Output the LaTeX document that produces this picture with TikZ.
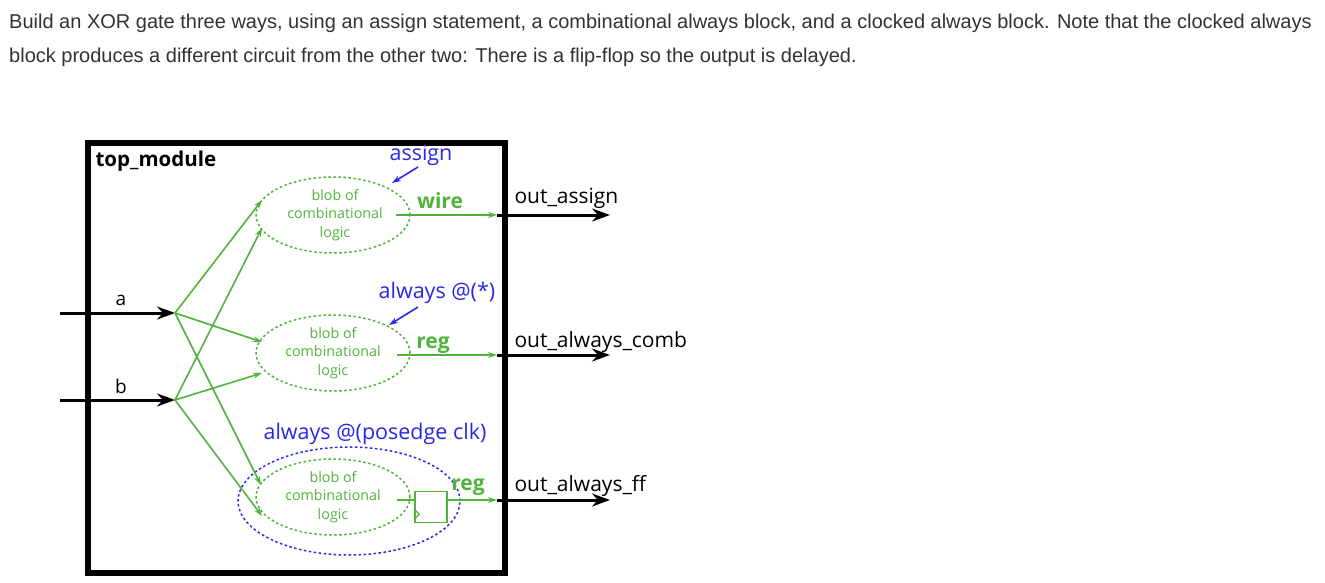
\documentclass[tikz,border=0pt]{standalone}
\usepackage{fontspec}
\setmainfont{Open Sans}
\newfontfamily\hdr{Liberation Sans}
\usetikzlibrary{arrows.meta,shapes.geometric,calc}
\definecolor{gr}{RGB}{80,180,60}
\definecolor{bl}{RGB}{40,40,230}
\definecolor{tx}{RGB}{50,50,50}
\tikzset{
 blob/.style={draw=gr,dash pattern=on 2.5pt off 2.5pt,line width=1.5pt,ellipse,minimum width=154pt,minimum height=76pt,inner sep=0pt},
 gw/.style={gr,line width=1.6pt,-{Stealth[length=9pt,width=6pt]}},
 bw/.style={black,line width=3pt,-{Stealth[length=18pt,width=13pt,inset=6pt]}},
 ba/.style={bl,line width=1.6pt,-{Stealth[length=9pt,width=6pt]}},
 bt/.style={font=\fontsize{14.3}{18.5}\selectfont,text=gr,align=center},
 outlbl/.style={anchor=west,font=\fontsize{21}{22}\selectfont},
 gl/.style={text=gr,font=\bfseries\fontsize{21}{22}\selectfont},
 bll/.style={text=bl,font=\fontsize{21.5}{22}\selectfont},
}
\begin{document}
\begin{tikzpicture}[x=1pt,y=-1pt]
\useasboundingbox (0,0) rectangle (1325,583);
\node[anchor=west,text=tx,font=\hdr\fontsize{20}{22}\selectfont,inner sep=0] (h1) at (9,23) {Build an XOR gate three ways, using an assign statement, a combinational always block, and a clocked always block. Note that the clocked always};
\node[anchor=west,text=tx,font=\hdr\fontsize{20}{22}\selectfont,inner sep=0] (h2) at (9,57) {block produces a different circuit from the other two: There is a flip-flop so the output is delayed.};
\draw[line width=6pt] (88,143) rectangle (505,573);
\node[anchor=west,font=\bfseries\fontsize{20.5}{22}\selectfont] (tm) at (92,161) {top\_module};
% blobs
\node[blob] (e1) at (333,215) {};
\node[bt] (t1) at (335,215) {blob of\\combinational\\logic};
\node[blob] (e2) at (333,353) {};
\node[bt] (t2) at (333,353) {blob of\\combinational\\logic};
\node[draw=bl,dash pattern=on 2.5pt off 2.5pt,line width=1.5pt,ellipse,minimum width=222pt,minimum height=108pt] (eb) at (349,501) {};
\node[blob] (e3) at (333,497) {};
\node[bt] (t3) at (333,497) {blob of\\combinational\\logic};
\node[draw=gr,line width=1.5pt,minimum width=32pt,minimum height=31pt,inner sep=0] (ff) at (431,507) {};
\draw[gr,line width=1.3pt] ($(ff.south west)+(0,-4)$) -- ++(5,-5) -- ++(-5,-5);
% inputs
\coordinate (ja) at (175,313);
\coordinate (jb) at (175,400);
\coordinate (ia) at (60,313);
\coordinate (ib) at (60,400);
\draw[bw] (ia) -- (ja);
\draw[bw] (ib) -- (jb);
\node[font=\fontsize{19}{20}\selectfont] (la) at (121,300) {a};
\node[font=\fontsize{19}{20}\selectfont] (lb) at (121,386) {b};
\coordinate (a1) at (262,200); \coordinate (b1) at (262,228);
\coordinate (a2) at (262,342); \coordinate (b2) at (262,373);
\coordinate (a3) at (261,485); \coordinate (b3) at (262,516);
\draw[gw] (ja) -- (a1); \draw[gw] (jb) -- (b1);
\draw[gw] (ja) -- (a2); \draw[gw] (jb) -- (b2);
\draw[gw] (ja) -- (a3); \draw[gw] (jb) -- (b3);
% outputs
\coordinate (o1) at (497,215); \coordinate (p1) at (610,215);
\coordinate (o2) at (497,355); \coordinate (p2) at (610,355);
\coordinate (o3) at (497,500); \coordinate (p3) at (610,500);
\draw[gw] (396,215) -- (o1);
\draw[gw] (397,355) -- (o2);
\draw[gr,line width=1.6pt] (397,500) -- (ff.west |- 0,500);
\draw[gw] (ff.east |- 0,500) -- (o3);
\draw[bw] (o1) -- (p1);
\draw[bw] (o2) -- (p2);
\draw[bw] (o3) -- (p3);
\node[outlbl] (l1) at (511,198) {out\_assign};
\node[outlbl] (l2) at (511,342) {out\_always\_comb};
\node[outlbl] (l3) at (511,486) {out\_always\_ff};
\node[gl] (w1) at (440,201) {wire};
\node[gl] (w2) at (433,345) {reg};
\node[gl] (w3) at (468,487) {reg};
% blue labels
\node[bll] (s1) at (421,155) {assign};
\node[bll] (s2) at (437,293) {always @(*)};
\node[bll] (s3) at (375,434) {always @(posedge clk)};
\draw[ba] (418,167) -- (392,183);
\draw[ba] (418,307) -- (389,325);
\end{tikzpicture}
\end{document}
